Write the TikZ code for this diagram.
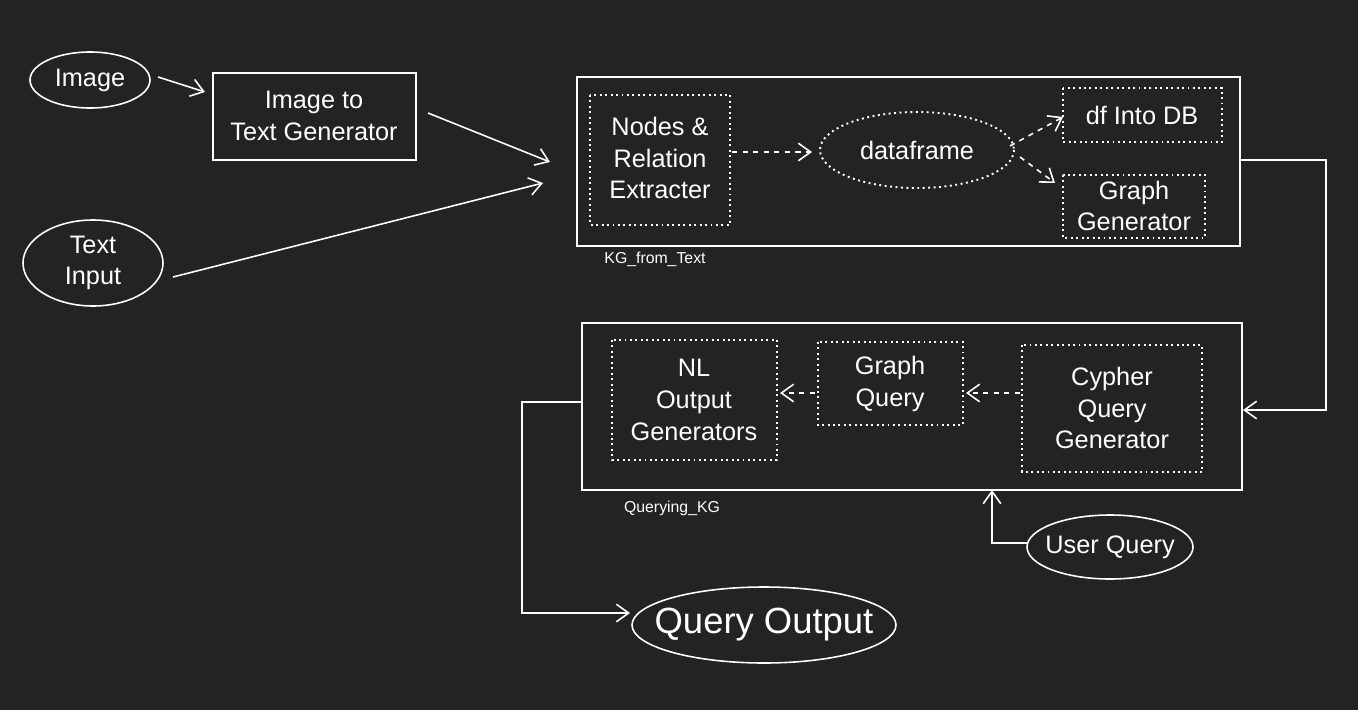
\documentclass[tikz,border=0pt]{standalone}
\usepackage{fontspec}
\setmainfont{Liberation Sans}
\usetikzlibrary{arrows.meta}
\definecolor{bg}{HTML}{232323}
\begin{document}
\begin{tikzpicture}[x=0.02cm,y=-0.02cm,
  line width=0.9pt, white,
  every node/.style={text=white, font=\Large, align=center},
  box/.style={draw=white, rectangle},
  dotbox/.style={draw=white, dotted, line width=1.1pt, rectangle},
  arr/.style={-{Straight Barb[length=7pt,width=10pt]}},
  darr/.style={arr, dashed},
  lbl/.style={font=\small}]
\fill[bg] (0,0) rectangle (1358,710);
\useasboundingbox (0,0) rectangle (1358,710);

% inputs
\draw (90,80) ellipse [x radius=60, y radius=28];
\node (img) at (90,80) {Image};
\draw (93,263) ellipse [x radius=70, y radius=43];
\node (txt) at (93,263) {Text\\Input};
\draw[box] (213,73) rectangle (416,160);
\node (itt) at (314,116) {Image to\\Text Generator};
\coordinate (a1) at (158,77); \coordinate (a2) at (205,92);
\draw[arr] (a1) -- (a2);
\coordinate (b1) at (428,113); \coordinate (b2) at (550,162);
\draw[arr] (b1) -- (b2);
\coordinate (c1) at (173,277); \coordinate (c2) at (543,183);
\draw[arr] (c1) -- (c2);

% KG_from_Text
\draw[box] (577,77) rectangle (1240,246);
\node[lbl] (kgl) at (655,259) {KG\_from\_Text};
\draw[dotbox] (590,95) rectangle (730,225);
\node (nre) at (660,158) {Nodes \&\\Relation\\Extracter};
\draw[dotted, line width=1.1pt] (917,150) ellipse [x radius=97, y radius=38];
\node (df) at (917,150) {dataframe};
\draw[dotbox] (1063,88) rectangle (1222,142);
\node (db) at (1142,115) {df Into DB};
\draw[dotbox] (1063,175) rectangle (1205,238);
\node (gg) at (1134,206) {Graph\\Generator};
\coordinate (d1) at (732,152); \coordinate (d2) at (812,152);
\draw[darr] (d1) -- (d2);
\coordinate (e1) at (1010,146); \coordinate (e2) at (1063,117);
\draw[darr] (e1) -- (e2);
\coordinate (f1) at (1020,157); \coordinate (f2) at (1055,183);
\draw[darr] (f1) -- (f2);

% link to querying
\coordinate (g1) at (1240,160); \coordinate (g2) at (1243,410);
\draw[arr] (g1) -- (1326,160) -- (1326,410) -- (g2);

% Querying_KG
\draw[box] (582,323) rectangle (1242,490);
\node[lbl] (qkl) at (672,508) {Querying\_KG};
\draw[dotbox] (612,340) rectangle (777,460);
\node (nl) at (694,400) {NL\\Output\\Generators};
\draw[dotbox] (818,342) rectangle (963,425);
\node (gq) at (890,384) {Graph\\Query};
\draw[dotbox] (1022,345) rectangle (1202,472);
\node (cq) at (1112,408) {Cypher\\Query\\Generator};
\coordinate (h1) at (1020,393); \coordinate (h2) at (966,393);
\draw[darr] (h1) -- (h2);
\coordinate (i1) at (815,393); \coordinate (i2) at (780,393);
\draw[darr] (i1) -- (i2);

% user query
\draw (1110,547) ellipse [x radius=83, y radius=32];
\node (uq) at (1110,547) {User Query};
\coordinate (j1) at (1027,543); \coordinate (j2) at (992,490);
\draw[arr] (j1) -- (992,543) -- (j2);

% output
\draw (764,625) ellipse [x radius=132, y radius=38];
\node[font=\huge] (qo) at (764,625) {Query Output};
\coordinate (k1) at (582,402); \coordinate (k2) at (630,613);
\draw[arr] (k1) -- (522,402) -- (522,613) -- (k2);
\end{tikzpicture}
\end{document}
